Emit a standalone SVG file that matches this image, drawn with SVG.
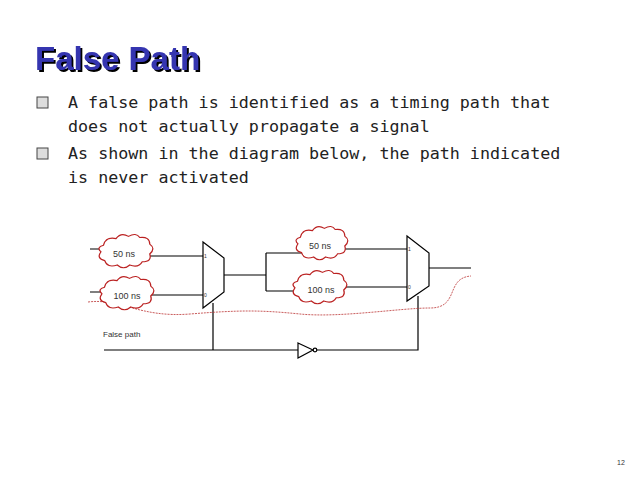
<svg xmlns="http://www.w3.org/2000/svg" width="638" height="479" viewBox="0 0 638 479">
<style>
.w{stroke:#000;stroke-width:1.2;fill:none}
.mux{stroke:#000;stroke-width:1.2;fill:#fff}
.cl{fill:#fff;stroke:#b22;stroke-width:1}
.ct{font-family:"Liberation Sans",Arial,sans-serif;font-size:9px;fill:#333;text-anchor:middle}
.pin{font-family:"Liberation Sans",Arial,sans-serif;font-size:5px;fill:#333}
.b{font-family:"DejaVu Sans Mono",monospace;font-size:16.7px;fill:#222}
</style>
<defs>
<path id="cloud" d="M-18,-8 q2,-8 10,-6 q4,-6 10,-2 q6,-4 9,1 q8,-1 8,6 q5,4 0,9 q2,7 -6,7 q-3,6 -10,3 q-5,5 -10,0 q-8,3 -10,-4 q-7,-2 -3,-8 q-4,-4 2,-6z"/>
<filter id="sh" x="-10%" y="-20%" width="130%" height="150%"><feDropShadow dx="2" dy="2" stdDeviation="0" flood-color="#000"/></filter>
</defs>
<rect width="638" height="479" fill="#fff"/>
<g id="title">
<text x="35" y="70" font-family="Liberation Sans,Arial,sans-serif" font-weight="bold" font-size="33" fill="#3535b0" filter="url(#sh)">False Path</text>
</g>
<g id="bullets">
<rect x="37" y="97" width="11" height="11" fill="#ddd" stroke="#444" stroke-width="1"/>
<rect x="37" y="148" width="11" height="11" fill="#ddd" stroke="#444" stroke-width="1"/>
<text class="b" x="68" y="108">A false path is identified as a timing path that</text>
<text class="b" x="68" y="132">does not actually propagate a signal</text>
<text class="b" x="68" y="159">As shown in the diagram below, the path indicated</text>
<text class="b" x="68" y="183">is never activated</text>
</g>
<g id="connectors">
<path class="w" d="M90,249 H110 M90,292 H110 M145,256 H203 M145,295 H203 M224,275 H266 M266,253 V291 M266,253 H305 M266,291 H303 M340,249 H407 M338,287 H407 M429,268 H471 M213,303 V350 M104,350 H298 M314,350 H418 V296"/>
<path d="M88,302 C120,298 140,318 190,314 S260,310 300,314 S400,308 430,308 S445,278 471,276" fill="none" stroke="#b33" stroke-width="0.8" stroke-dasharray="2,1"/>
</g>
<g id="c1"><use href="#cloud" transform="translate(126,254) scale(1.25,1.1)" class="cl"/><text class="ct" x="124" y="257">50 ns</text></g>
<g id="c2"><use href="#cloud" transform="translate(127,296) scale(1.25,1.1)" class="cl"/><text class="ct" x="127" y="299">100 ns</text></g>
<g id="c3"><use href="#cloud" transform="translate(322,246) scale(1.2,1.1)" class="cl"/><text class="ct" x="320" y="249">50 ns</text></g>
<g id="c4"><use href="#cloud" transform="translate(320,290) scale(1.25,1.1)" class="cl"/><text class="ct" x="321" y="293">100 ns</text></g>
<g id="mux1"><path class="mux" d="M203,242 L224,258 V292 L203,308 Z"/><text class="pin" x="204" y="258">1</text><text class="pin" x="204" y="297">0</text></g>
<g id="mux2"><path class="mux" d="M407,236 L429,253 V286 L407,301 Z"/><text class="pin" x="408" y="251">1</text><text class="pin" x="408" y="289">0</text></g>
<g id="buf"><path class="mux" d="M298,343 L313,350 L298,358 Z"/><circle cx="315" cy="350" r="1.8" class="mux"/></g>
<text x="103" y="337" font-family="Liberation Sans,Arial,sans-serif" font-size="8" fill="#333">False path</text>
<text x="617" y="465" font-family="Liberation Sans,Arial,sans-serif" font-size="7" fill="#333">12</text>
</svg>
